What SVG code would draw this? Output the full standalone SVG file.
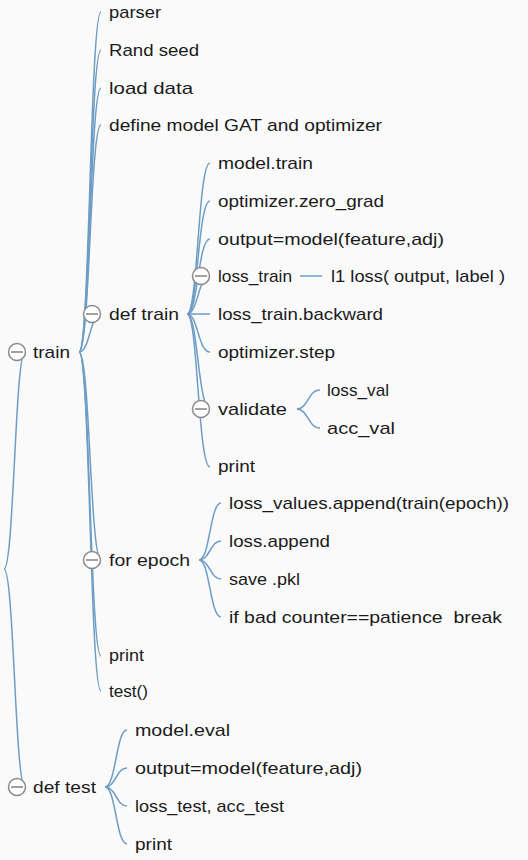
<svg xmlns="http://www.w3.org/2000/svg" width="528" height="860" viewBox="0 0 528 860">
<style>
text{font-family:"Liberation Sans",Arial,sans-serif;font-size:17px;fill:#1a1a1a;white-space:pre}
.c path{fill:none;stroke:#6e9dc5;stroke-width:1.5}
.k circle{fill:#fff;stroke:#8a8a8a;stroke-width:1.5}
.k line{stroke:#8a8a8a;stroke-width:1.6}
</style>
<rect width="528" height="860" fill="#fafafa"/>
<g class="c" id="connectors">
<path d="M4,569 C14,569 15,352 25,352"/>
<path d="M4,569 C14,569 15,787 25,787"/>
<path d="M79,352 C90,352 90,12 101,12"/>
<path d="M79,352 C90,352 90,50 101,50"/>
<path d="M79,352 C90,352 90,88 101,88"/>
<path d="M79,352 C90,352 90,125 101,125"/>
<path d="M79,352 C90,352 90,314 101,314"/>
<path d="M79,352 C90,352 90,560 101,560"/>
<path d="M79,352 C90,352 90,656 101,656"/>
<path d="M79,352 C90,352 90,691 101,691"/>
<path d="M187,314 C198,314 198,163 210,163"/>
<path d="M187,314 C198,314 198,201 210,201"/>
<path d="M187,314 C198,314 198,239 210,239"/>
<path d="M187,314 C198,314 198,276 210,276"/>
<path d="M187,314 L210,314"/>
<path d="M187,314 C198,314 198,352 210,352"/>
<path d="M187,314 C198,314 198,409 210,409"/>
<path d="M187,314 C198,314 198,467 210,467"/>
<path d="M300,276 L322,276"/>
<path d="M297,409 C308,409 308,390 320,390"/>
<path d="M297,409 C308,409 308,428 320,428"/>
<path d="M199,560 C210,560 210,503 221,503"/>
<path d="M199,560 C210,560 210,541 221,541"/>
<path d="M199,560 C210,560 210,579 221,579"/>
<path d="M199,560 C210,560 210,617 221,617"/>
<path d="M105,787 C116,787 116,730 127,730"/>
<path d="M105,787 C116,787 116,768 127,768"/>
<path d="M105,787 C116,787 116,806 127,806"/>
<path d="M105,787 C116,787 116,844 127,844"/>
</g>
<g id="n-train" class="k"><circle cx="17" cy="352" r="8.5"/><line x1="11" y1="352" x2="23" y2="352"/><text x="33" y="358" textLength="37" lengthAdjust="spacingAndGlyphs">train</text></g>
<g id="n-parser"><text x="109" y="18" textLength="52" lengthAdjust="spacingAndGlyphs">parser</text></g>
<g id="n-rand"><text x="109" y="56" textLength="90" lengthAdjust="spacingAndGlyphs">Rand seed</text></g>
<g id="n-load"><text x="109" y="94" textLength="84" lengthAdjust="spacingAndGlyphs">load data</text></g>
<g id="n-define"><text x="109" y="131" textLength="273" lengthAdjust="spacingAndGlyphs">define model GAT and optimizer</text></g>
<g id="n-deftrain" class="k"><circle cx="92" cy="314" r="8.5"/><line x1="86" y1="314" x2="98" y2="314"/><text x="109" y="320" textLength="70" lengthAdjust="spacingAndGlyphs">def train</text></g>
<g id="n-modeltrain"><text x="218" y="169" textLength="95" lengthAdjust="spacingAndGlyphs">model.train</text></g>
<g id="n-zerograd"><text x="218" y="207" textLength="166" lengthAdjust="spacingAndGlyphs">optimizer.zero_grad</text></g>
<g id="n-output1"><text x="218" y="245" textLength="226" lengthAdjust="spacingAndGlyphs">output=model(feature,adj)</text></g>
<g id="n-losstrain" class="k"><circle cx="201" cy="276" r="8.5"/><line x1="195" y1="276" x2="207" y2="276"/><text x="218" y="282" textLength="74" lengthAdjust="spacingAndGlyphs">loss_train</text></g>
<g id="n-l1"><text x="331" y="282" textLength="174" lengthAdjust="spacingAndGlyphs">l1 loss( output, label )</text></g>
<g id="n-backward"><text x="218" y="320" textLength="165" lengthAdjust="spacingAndGlyphs">loss_train.backward</text></g>
<g id="n-step"><text x="218" y="358" textLength="117" lengthAdjust="spacingAndGlyphs">optimizer.step</text></g>
<g id="n-validate" class="k"><circle cx="201" cy="409" r="8.5"/><line x1="195" y1="409" x2="207" y2="409"/><text x="218" y="415" textLength="69" lengthAdjust="spacingAndGlyphs">validate</text></g>
<g id="n-lossval"><text x="327" y="396" textLength="62" lengthAdjust="spacingAndGlyphs">loss_val</text></g>
<g id="n-accval"><text x="327" y="434" textLength="68" lengthAdjust="spacingAndGlyphs">acc_val</text></g>
<g id="n-print1"><text x="218" y="472" textLength="37" lengthAdjust="spacingAndGlyphs">print</text></g>
<g id="n-forepoch" class="k"><circle cx="92" cy="560" r="8.5"/><line x1="86" y1="560" x2="98" y2="560"/><text x="109" y="566" textLength="81" lengthAdjust="spacingAndGlyphs">for epoch</text></g>
<g id="n-lossvalues"><text x="229" y="509" textLength="280" lengthAdjust="spacingAndGlyphs">loss_values.append(train(epoch))</text></g>
<g id="n-lossappend"><text x="229" y="547" textLength="101" lengthAdjust="spacingAndGlyphs">loss.append</text></g>
<g id="n-save"><text x="229" y="585" textLength="71" lengthAdjust="spacingAndGlyphs">save .pkl</text></g>
<g id="n-ifbad"><text x="229" y="623" textLength="273" lengthAdjust="spacingAndGlyphs">if bad counter==patience  break</text></g>
<g id="n-print2"><text x="109" y="661" textLength="35" lengthAdjust="spacingAndGlyphs">print</text></g>
<g id="n-test"><text x="109" y="697" textLength="39" lengthAdjust="spacingAndGlyphs">test()</text></g>
<g id="n-deftest" class="k"><circle cx="17" cy="787" r="8.5"/><line x1="11" y1="787" x2="23" y2="787"/><text x="33" y="793" textLength="63" lengthAdjust="spacingAndGlyphs">def test</text></g>
<g id="n-modeleval"><text x="135" y="736" textLength="95" lengthAdjust="spacingAndGlyphs">model.eval</text></g>
<g id="n-output2"><text x="135" y="774" textLength="227" lengthAdjust="spacingAndGlyphs">output=model(feature,adj)</text></g>
<g id="n-losstest"><text x="135" y="812" textLength="149" lengthAdjust="spacingAndGlyphs">loss_test, acc_test</text></g>
<g id="n-print3"><text x="135" y="850" textLength="37" lengthAdjust="spacingAndGlyphs">print</text></g>
</svg>
